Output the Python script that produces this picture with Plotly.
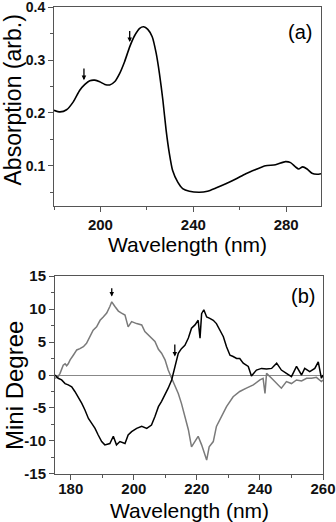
import plotly.graph_objects as go

# ---------------- data ----------------
# (a) absorption spectrum
abs_wl = [180, 182.6, 185.4, 188.3, 191.1, 193.3, 195.4, 197.6, 199.7, 201.9, 204, 206.1,
          208.3, 210.4, 212.6, 214.7, 216.9, 218.6, 220.4, 222.3, 224, 225.4, 226.9, 228.3,
          229.7, 231.1, 233.3, 235.4, 238.3, 242.6, 246.1, 249.7, 254, 258.3, 262.6, 266.9,
          271.1, 275.4, 279.7, 281.9, 284, 285.4, 287.1, 289, 291.1, 293.3, 295]
abs_val = [0.205, 0.202, 0.206, 0.221, 0.243, 0.254, 0.261, 0.262, 0.259, 0.254, 0.253, 0.259,
           0.275, 0.297, 0.325, 0.346, 0.360, 0.363, 0.358, 0.344, 0.313, 0.275, 0.224, 0.167,
           0.123, 0.091, 0.069, 0.057, 0.052, 0.050, 0.052, 0.058, 0.066, 0.075, 0.085, 0.093,
           0.100, 0.102, 0.108, 0.106, 0.098, 0.094, 0.098, 0.094, 0.086, 0.084, 0.085]

# (b) circular dichroism, gray series
cd_gray_wl = [175, 176, 176.6, 177.1, 177.6, 178.2, 178.7, 179.2, 179.8, 180.8, 181.9, 182.9, 184,
              185, 186.1, 187.1, 188.2, 189.3, 190.3, 191.4, 192.4, 193, 194, 195.1, 196.1,
              197.2, 198.2, 199.3, 200.9, 202.5, 203.5, 204.6, 205.6, 206.7, 207.8, 208.8,
              209.9, 210.9, 212, 213, 214.1, 215.1, 216.2, 217.3, 218.3, 219.4, 220.4, 221.5,
              222.5, 223.1, 223.9, 225.2, 226.2, 227.3, 229.4, 231.5, 233.6, 235.7, 237.9,
              240, 241, 241.6, 242.1, 243.7, 245.3, 246.8, 248.4, 250, 251.6, 253.2, 254.8,
              256.4, 257.9, 259.5, 260]
cd_gray_val = [-0.5, -0.25, 0.25, 1.0, 1.5, 1.7, 1.4, 1.7, 2.3, 3.0, 3.8, 4.0, 4.3,
               4.8, 5.8, 6.8, 7.3, 8.3, 8.8, 9.4, 10.4, 11.1, 10.4, 9.7, 9.4,
               9.1, 7.3, 8.1, 7.8, 7.6, 6.6, 6.1, 5.6, 5.1, 3.9, 3.3,
               2.3, 0.75, -0.5, -1.5, -2.8, -4.3, -6.3, -8.3, -10.9, -10.1, -9.3, -10.6,
               -11.9, -12.9, -10.9, -10.1, -7.8, -6.8, -4.8, -3.3, -2.5, -2.0, -1.5,
               -0.75, -0.5, -2.8, 0.25, -0.5, -1.3, -2.0, -1.0, -1.3, -0.75, -0.9, -0.5,
               -0.5, -0.35, -1.0, -0.75]

# (b) circular dichroism, black series
cd_black_wl = [175, 176, 177.1, 178.2, 179.2, 180.3, 181.3, 182.4, 183.5, 184.5, 185.6, 186.6,
               187.7, 188.7, 189.8, 190.8, 192.4, 193.5, 194.5, 195.6, 197.2, 198.2, 199.3,
               200.9, 202.5, 204.1, 205.6, 206.7, 207.8, 208.8, 209.9, 210.9, 212, 213, 214.1,
               215.1, 216.2, 217.3, 218.3, 219.4, 220.4, 221, 221.5, 222.2, 223.1, 224.1,
               225.2, 226.2, 227.3, 228.4, 229.4, 230.5, 231.5, 232.6, 233.6, 234.7, 236.3,
               237.3, 238.9, 240.5, 242.1, 243.7, 245.3, 246.8, 248.4, 250, 251.6, 253.2,
               254.2, 255.8, 257.4, 258.5, 259.5, 260]
cd_black_val = [0, -0.5, -0.75, -1.3, -1.5, -1.8, -2.5, -3.3, -4.3, -5.3, -6.6, -7.3,
                -8.1, -9.1, -10.1, -10.6, -10.4, -9.3, -10.6, -10.1, -10.4, -9.1, -8.6,
                -8.1, -7.8, -8.1, -7.6, -6.3, -4.8, -4.0, -3.0, -2.0, -0.75, 1.3, 3.3,
                4.0, 4.5, 5.6, 7.1, 7.6, 8.3, 5.6, 9.3, 9.9, 8.8, 8.6,
                8.3, 7.8, 6.8, 5.8, 4.3, 3.0, 2.8, 2.5, 2.5, 1.8, 1.3,
                -0.15, 0.75, 1.0, 0.9, 1.0, 1.8, 0.75, 0.25, -0.25, 1.3, 0,
                1.0, 0.5, 1.0, 2.0, -0.5, 0]

# arrows: (wavelength, tail value, tip value)
arrows_a = [(192.9, 0.287, 0.262), (212.6, 0.358, 0.334)]
arrows_b = [(193.0, 13.4, 11.9), (213.0, 4.85, 2.8)]

xticks_a = [200, 240, 280]
xticklabels_a = ["200", "240", "280"]
yticks_a = [0.1, 0.2, 0.3, 0.4]
yticklabels_a = ["0.1", "0.2", "0.3", "0.4"]
xticks_b = [180, 200, 220, 240, 260]
xticklabels_b = ["180", "200", "220", "240", "260"]
yticks_b = [-15, -10, -5, 0, 5, 10, 15]
yticklabels_b = ["-15", "-10", "-5", "0", "5", "10", "15"]


def bold(labels):
    return ["<b>%s</b>" % s for s in labels]


# ---------------- figure ----------------
FONT = "Arial, Liberation Sans, Helvetica, sans-serif"
W, H = 336, 522

fig = go.Figure()
fig.add_trace(go.Scatter(x=abs_wl, y=abs_val, mode="lines", line=dict(color="black", width=1.6, shape="spline", smoothing=0.6),
                         xaxis="x", yaxis="y", showlegend=False, hoverinfo="skip"))
fig.add_trace(go.Scatter(x=cd_gray_wl, y=cd_gray_val, mode="lines", line=dict(color="#7a7a7a", width=1.5),
                         xaxis="x2", yaxis="y2", showlegend=False, hoverinfo="skip"))
fig.add_trace(go.Scatter(x=cd_black_wl, y=cd_black_val, mode="lines", line=dict(color="black", width=1.5),
                         xaxis="x2", yaxis="y2", showlegend=False, hoverinfo="skip"))

axis_common = dict(showline=True, mirror=True, linecolor="#555", linewidth=1, ticks="outside",
                   ticklen=5, tickwidth=1, tickcolor="#555", showgrid=False, zeroline=False,
                   automargin=False, ticklabeloverflow="allow",
                   tickfont=dict(family=FONT, size=15, color="#111"))

fig.update_layout(
    width=W, height=H, margin=dict(l=0, r=0, t=0, b=0),
    paper_bgcolor="white", plot_bgcolor="white",
    xaxis=dict(axis_common, domain=[54 / W, 321 / W], range=[180, 295], anchor="y",
               tickvals=xticks_a, ticktext=bold(xticklabels_a),
               minor=dict(ticks="outside", ticklen=3, dtick=20, tick0=180, tickcolor="#555")),
    yaxis=dict(axis_common, domain=[1 - 206 / H, 1 - 7 / H], range=[0.024, 0.4004], anchor="x",
               tickvals=yticks_a, ticktext=bold(yticklabels_a),
               tickfont=dict(family=FONT, size=14, color="#111"),
               minor=dict(ticks="outside", ticklen=3, dtick=0.05, tick0=0, tickcolor="#555")),
    xaxis2=dict(axis_common, domain=[55 / W, 323 / W], range=[175, 260], anchor="y2",
                tickvals=xticks_b, ticktext=bold(xticklabels_b), ticklabelstandoff=-4,
                minor=dict(ticks="outside", ticklen=3, dtick=10, tick0=170, tickcolor="#555")),
    yaxis2=dict(axis_common, domain=[1 - 474 / H, 1 - 276 / H], range=[-15.02, 15.02], anchor="x2",
                tickvals=yticks_b, ticktext=bold(yticklabels_b),
                zeroline=True, zerolinecolor="#888", zerolinewidth=1,
                minor=dict(ticks="outside", ticklen=3, dtick=2.5, tick0=0, tickcolor="#555")),
)

annotations = [
    dict(text="Wavelength (nm)", x=(54 + 321) / 2 / W, y=1 - 245 / H, xref="paper", yref="paper",
         showarrow=False, font=dict(family=FONT, size=21, color="black"), xanchor="center", yanchor="middle"),
    dict(text="Wavelength (nm)", x=(55 + 323) / 2 / W, y=1 - 510 / H, xref="paper", yref="paper",
         showarrow=False, font=dict(family=FONT, size=21, color="black"), xanchor="center", yanchor="middle"),
    dict(text="Absorption (arb.)", x=12.5 / W, y=1 - 100 / H, xref="paper", yref="paper", textangle=-90,
         showarrow=False, font=dict(family=FONT, size=23, color="black"), xanchor="center", yanchor="middle"),
    dict(text="Mini Degree", x=14 / W, y=1 - 386 / H, xref="paper", yref="paper", textangle=-90,
         showarrow=False, font=dict(family=FONT, size=24, color="black"), xanchor="center", yanchor="middle"),
    dict(text="(a)", x=300 / W, y=1 - 32 / H, xref="paper", yref="paper",
         showarrow=False, font=dict(family=FONT, size=20, color="black"), xanchor="center", yanchor="middle"),
    dict(text="(b)", x=303 / W, y=1 - 296 / H, xref="paper", yref="paper",
         showarrow=False, font=dict(family=FONT, size=20, color="black"), xanchor="center", yanchor="middle"),
]
for wl, tail, tip in arrows_a:
    annotations.append(dict(x=wl, y=tip, ax=wl, ay=tail, xref="x", yref="y", axref="x", ayref="y",
                            text="", showarrow=True, arrowhead=2, arrowsize=0.7, arrowwidth=1.3, arrowcolor="black"))
for wl, tail, tip in arrows_b:
    annotations.append(dict(x=wl, y=tip, ax=wl, ay=tail, xref="x2", yref="y2", axref="x2", ayref="y2",
                            text="", showarrow=True, arrowhead=2, arrowsize=0.7, arrowwidth=1.3, arrowcolor="black"))
fig.update_layout(annotations=annotations)

fig.write_html("out.html")
